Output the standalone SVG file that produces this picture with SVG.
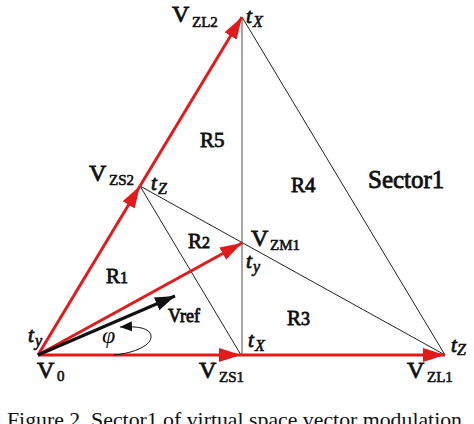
<svg xmlns="http://www.w3.org/2000/svg" width="474" height="424" viewBox="0 0 474 424">
<style>
.red{stroke:#e31a1c;stroke-width:3;fill:none}
.thin{stroke:#222;stroke-width:1;fill:none}
.gray{stroke:#888;stroke-width:1.5;fill:none}
.lbl{font-family:"Liberation Serif",serif;font-weight:normal;fill:#111;stroke:#111;stroke-width:0.8px}
.V{font-size:24px}
.sub{font-size:15px;stroke-width:0.6px}
.t{font-family:"Liberation Serif",serif;font-style:italic;fill:#111;stroke:#111;stroke-width:0.8px;font-size:21px}
.ts{font-family:"Liberation Serif",serif;font-style:italic;fill:#111;stroke:#111;stroke-width:0.6px;font-size:16px}
.R{font-size:21px}
.cap{font-family:"Liberation Serif",serif;font-size:22px;fill:#111}
</style>
<defs>
<marker id="ar" markerUnits="userSpaceOnUse" markerWidth="24" markerHeight="16" refX="22" refY="7" orient="auto" viewBox="0 0 24 14">
<path d="M0,0 L22,7 L0,14 z" fill="#e31a1c"/>
</marker>
<marker id="ab" markerUnits="userSpaceOnUse" markerWidth="22" markerHeight="16" refX="20" refY="7" orient="auto" viewBox="0 0 22 14">
<path d="M0,0 L20,7 L0,14 z" fill="#111"/>
</marker>
<marker id="as" markerUnits="userSpaceOnUse" markerWidth="14" markerHeight="12" refX="12" refY="5" orient="auto" viewBox="0 0 14 10">
<path d="M0,0 L12,5 L0,10 z" fill="#111"/>
</marker>
</defs>
<g id="connectors">
<line class="gray" x1="242" y1="17" x2="242" y2="355"/>
<line class="thin" x1="242" y1="17" x2="445" y2="355"/>
<line class="thin" x1="140" y1="186" x2="241" y2="355"/>
<line class="thin" x1="140" y1="186" x2="445" y2="355"/>
<line class="red" x1="38" y1="355" x2="241" y2="355" marker-end="url(#ar)"/>
<line class="red" x1="241" y1="355" x2="445" y2="355" marker-end="url(#ar)"/>
<line class="red" x1="38" y1="355" x2="140" y2="186" marker-end="url(#ar)"/>
<line class="red" x1="140" y1="186" x2="242" y2="17" marker-end="url(#ar)"/>
<line class="red" x1="38" y1="355" x2="242" y2="243" marker-end="url(#ar)"/>
<line x1="38" y1="355" x2="175" y2="296" stroke="#111" stroke-width="3" marker-end="url(#ab)"/>
<path d="M114,355 C135,353 152,345 151,336 C150,328 138,326 120,327" stroke="#111" stroke-width="1" fill="none" marker-end="url(#as)"/>
</g>
<g id="VZL2"><text class="lbl V" x="172" y="22">V</text><text class="lbl sub" x="192" y="27">ZL2</text></g>
<g id="tX-top"><text class="t" x="246" y="23">t</text><text class="ts" x="253" y="27">X</text></g>
<g id="R5"><text class="lbl R" x="200" y="147">R5</text></g>
<g id="R4"><text class="lbl R" x="291" y="192">R4</text></g>
<g id="Sector1"><text class="lbl" x="368" y="188" font-size="25">Sector1</text></g>
<g id="VZS2"><text class="lbl V" x="89" y="181">V</text><text class="lbl sub" x="109" y="185">ZS2</text></g>
<g id="tZ-mid"><text class="t" x="151" y="190">t</text><text class="ts" x="158" y="194">Z</text></g>
<g id="R2"><text class="lbl R" x="188" y="248">R<tspan font-size="16">2</tspan></text></g>
<g id="VZM1"><text class="lbl V" x="251" y="246">V</text><text class="lbl sub" x="270" y="250">ZM1</text></g>
<g id="ty-mid"><text class="t" x="246" y="268">t</text><text class="ts" x="253" y="272" font-size="12">y</text></g>
<g id="R1"><text class="lbl R" x="106" y="283">R<tspan font-size="16">1</tspan></text></g>
<g id="Vref"><text class="lbl" x="168" y="322" font-size="18">Vref</text></g>
<g id="R3"><text class="lbl R" x="287" y="325">R<tspan font-size="18">3</tspan></text></g>
<g id="tX-bot"><text class="t" x="248" y="347">t</text><text class="ts" x="255" y="351">X</text></g>
<g id="tZ-right"><text class="t" x="451" y="352">t</text><text class="ts" x="457" y="355">Z</text></g>
<g id="ty-left"><text class="t" x="28" y="342">t</text><text class="ts" x="35" y="346" font-size="12">y</text></g>
<g id="phi"><text x="102" y="343" font-family="Liberation Serif,serif" font-style="italic" font-size="24" fill="#111">φ</text></g>
<g id="V0"><text class="lbl V" x="37" y="378">V</text><text class="lbl sub" x="57" y="381">0</text></g>
<g id="VZS1"><text class="lbl V" x="199" y="378">V</text><text class="lbl sub" x="219" y="382">ZS1</text></g>
<g id="VZL1"><text class="lbl V" x="407" y="378">V</text><text class="lbl sub" x="427" y="382">ZL1</text></g>
<g id="caption"><text class="cap" x="7" y="427" textLength="455" lengthAdjust="spacingAndGlyphs">Figure 2. Sector1 of virtual space vector modulation</text></g>
</svg>
